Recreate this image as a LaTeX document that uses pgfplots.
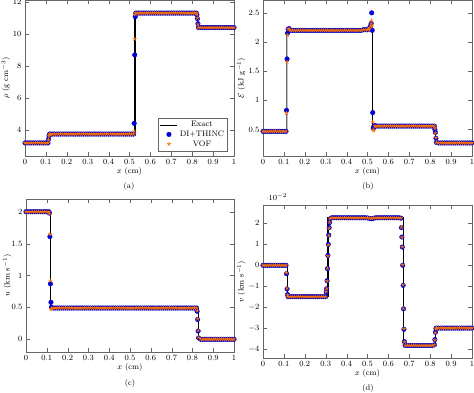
\documentclass[border=0pt]{standalone}
\usepackage{pgfplots}
\usepackage{pgfplotstable}
\pgfplotsset{compat=1.18}
\pgfplotstableset{row sep=\\}

\pgfplotstableread{
x di vof\\
0.00 3.17 3.17\\ 0.01 3.17 3.17\\ 0.02 3.17 3.17\\ 0.03 3.17 3.17\\ 0.04 3.17 3.17\\ 0.05 3.17 3.17\\
0.06 3.17 3.17\\ 0.07 3.17 3.17\\ 0.08 3.17 3.17\\ 0.09 3.17 3.17\\ 0.10 3.17 3.17\\ 0.11 3.17 3.17\\
0.1125 3.40 3.36\\ 0.115 3.62 3.60\\ 0.1175 3.72 3.71\\
0.12 3.73 3.73\\ 0.13 3.73 3.73\\ 0.14 3.73 3.73\\ 0.15 3.73 3.73\\ 0.16 3.73 3.73\\ 0.17 3.73 3.73\\
0.18 3.73 3.73\\ 0.19 3.73 3.73\\ 0.20 3.73 3.73\\ 0.21 3.73 3.73\\ 0.22 3.73 3.73\\ 0.23 3.73 3.73\\
0.24 3.73 3.73\\ 0.25 3.73 3.73\\ 0.26 3.73 3.73\\ 0.27 3.73 3.73\\ 0.28 3.73 3.73\\ 0.29 3.73 3.73\\
0.30 3.73 3.73\\ 0.31 3.73 3.73\\ 0.32 3.73 3.73\\ 0.33 3.73 3.73\\ 0.34 3.73 3.73\\ 0.35 3.73 3.73\\
0.36 3.73 3.73\\ 0.37 3.73 3.73\\ 0.38 3.73 3.73\\ 0.39 3.73 3.73\\ 0.40 3.73 3.73\\ 0.41 3.73 3.73\\
0.42 3.73 3.73\\ 0.43 3.73 3.73\\ 0.44 3.73 3.73\\ 0.45 3.73 3.73\\ 0.46 3.73 3.73\\ 0.47 3.73 3.73\\
0.48 3.73 3.73\\ 0.49 3.73 3.73\\ 0.50 3.73 3.73\\ 0.51 3.73 3.73\\ 0.52 3.73 3.73\\
0.5225 4.40 3.90\\ 0.525 8.70 9.70\\ 0.5275 11.10 11.24\\
0.53 11.33 11.33\\ 0.54 11.33 11.33\\ 0.55 11.33 11.33\\ 0.56 11.33 11.33\\ 0.57 11.33 11.33\\
0.58 11.33 11.33\\ 0.59 11.33 11.33\\ 0.60 11.33 11.33\\ 0.61 11.33 11.33\\ 0.62 11.33 11.33\\
0.63 11.33 11.33\\ 0.64 11.33 11.33\\ 0.65 11.33 11.33\\ 0.66 11.33 11.33\\ 0.67 11.33 11.33\\
0.68 11.33 11.33\\ 0.69 11.33 11.33\\ 0.70 11.33 11.33\\ 0.71 11.33 11.33\\ 0.72 11.33 11.33\\
0.73 11.33 11.33\\ 0.74 11.33 11.33\\ 0.75 11.33 11.33\\ 0.76 11.33 11.33\\ 0.77 11.33 11.33\\
0.78 11.33 11.33\\ 0.79 11.33 11.33\\ 0.80 11.33 11.33\\ 0.81 11.33 11.33\\ 0.82 11.33 11.33\\
0.8225 11.22 11.25\\ 0.825 10.98 11.02\\ 0.8275 10.66 10.62\\
0.83 10.42 10.42\\ 0.84 10.42 10.42\\ 0.85 10.42 10.42\\ 0.86 10.42 10.42\\ 0.87 10.42 10.42\\
0.88 10.42 10.42\\ 0.89 10.42 10.42\\ 0.90 10.42 10.42\\ 0.91 10.42 10.42\\ 0.92 10.42 10.42\\
0.93 10.42 10.42\\ 0.94 10.42 10.42\\ 0.95 10.42 10.42\\ 0.96 10.42 10.42\\ 0.97 10.42 10.42\\
0.98 10.42 10.42\\ 0.99 10.42 10.42\\ 1.00 10.42 10.42\\
}\tabA

\pgfplotstableread{
x di vof\\
0.00 0.47 0.47\\ 0.01 0.47 0.47\\ 0.02 0.47 0.47\\ 0.03 0.47 0.47\\ 0.04 0.47 0.47\\ 0.05 0.47 0.47\\
0.06 0.47 0.47\\ 0.07 0.47 0.47\\ 0.08 0.47 0.47\\ 0.09 0.47 0.47\\ 0.10 0.47 0.47\\ 0.11 0.47 0.47\\
0.1125 0.83 0.78\\ 0.115 1.71 1.66\\ 0.1175 2.15 2.12\\ 0.12 2.22 2.22\\ 0.125 2.23 2.23\\
0.13 2.20 2.20\\ 0.14 2.20 2.20\\ 0.15 2.20 2.20\\ 0.16 2.20 2.20\\ 0.17 2.20 2.20\\ 0.18 2.20 2.20\\
0.19 2.20 2.20\\ 0.20 2.20 2.20\\ 0.21 2.20 2.20\\ 0.22 2.20 2.20\\ 0.23 2.20 2.20\\ 0.24 2.20 2.20\\
0.25 2.20 2.20\\ 0.26 2.20 2.20\\ 0.27 2.20 2.20\\ 0.28 2.20 2.20\\ 0.29 2.20 2.20\\ 0.30 2.20 2.20\\
0.31 2.20 2.20\\ 0.32 2.20 2.20\\ 0.33 2.20 2.20\\ 0.34 2.20 2.20\\ 0.35 2.20 2.20\\ 0.36 2.20 2.20\\
0.37 2.20 2.20\\ 0.38 2.20 2.20\\ 0.39 2.20 2.20\\ 0.40 2.20 2.20\\ 0.41 2.20 2.20\\ 0.42 2.20 2.20\\
0.43 2.20 2.20\\ 0.44 2.20 2.20\\ 0.45 2.20 2.20\\ 0.46 2.20 2.20\\ 0.47 2.20 2.20\\ 0.48 2.21 2.21\\
0.49 2.21 2.21\\ 0.50 2.21 2.21\\
0.505 2.22 2.22\\ 0.51 2.24 2.23\\ 0.515 2.28 2.27\\ 0.5175 2.32 2.32\\ 0.52 2.50 2.37\\
0.5225 2.20 2.28\\ 0.525 0.79 0.63\\ 0.5275 0.52 0.50\\ 0.53 0.55 0.48\\ 0.535 0.57 0.56\\
0.54 0.56 0.56\\ 0.55 0.56 0.56\\ 0.56 0.56 0.56\\ 0.57 0.56 0.56\\ 0.58 0.56 0.56\\ 0.59 0.56 0.56\\
0.60 0.56 0.56\\ 0.61 0.56 0.56\\ 0.62 0.56 0.56\\ 0.63 0.56 0.56\\ 0.64 0.56 0.56\\ 0.65 0.56 0.56\\
0.66 0.56 0.56\\ 0.67 0.56 0.56\\ 0.68 0.56 0.56\\ 0.69 0.56 0.56\\ 0.70 0.56 0.56\\ 0.71 0.56 0.56\\
0.72 0.56 0.56\\ 0.73 0.56 0.56\\ 0.74 0.56 0.56\\ 0.75 0.56 0.56\\ 0.76 0.56 0.56\\ 0.77 0.56 0.56\\
0.78 0.56 0.56\\ 0.79 0.56 0.56\\ 0.80 0.56 0.56\\ 0.81 0.56 0.56\\ 0.82 0.56 0.56\\
0.8225 0.50 0.52\\ 0.825 0.45 0.44\\ 0.8275 0.35 0.36\\ 0.83 0.28 0.28\\
0.84 0.27 0.27\\ 0.85 0.27 0.27\\ 0.86 0.27 0.27\\ 0.87 0.27 0.27\\ 0.88 0.27 0.27\\ 0.89 0.27 0.27\\
0.90 0.27 0.27\\ 0.91 0.27 0.27\\ 0.92 0.27 0.27\\ 0.93 0.27 0.27\\ 0.94 0.27 0.27\\ 0.95 0.27 0.27\\
0.96 0.27 0.27\\ 0.97 0.27 0.27\\ 0.98 0.27 0.27\\ 0.99 0.27 0.27\\ 1.00 0.27 0.27\\
}\tabB

\pgfplotstableread{
x di vof\\
0.00 2.00 2.00\\ 0.01 2.00 2.00\\ 0.02 2.00 2.00\\ 0.03 2.00 2.00\\ 0.04 2.00 2.00\\ 0.05 2.00 2.00\\
0.06 2.00 2.00\\ 0.07 2.00 2.00\\ 0.08 2.00 2.00\\ 0.09 2.00 2.00\\ 0.10 2.00 2.00\\ 0.11 2.00 2.00\\
0.1125 1.98 1.97\\ 0.115 1.61 1.65\\ 0.1175 0.87 0.92\\ 0.12 0.58 0.47\\ 0.1225 0.50 0.48\\
0.13 0.49 0.49\\ 0.14 0.49 0.49\\ 0.15 0.49 0.49\\ 0.16 0.49 0.49\\ 0.17 0.49 0.49\\ 0.18 0.49 0.49\\
0.19 0.49 0.49\\ 0.20 0.49 0.49\\ 0.21 0.49 0.49\\ 0.22 0.49 0.49\\ 0.23 0.49 0.49\\ 0.24 0.49 0.49\\
0.25 0.49 0.49\\ 0.26 0.49 0.49\\ 0.27 0.49 0.49\\ 0.28 0.49 0.49\\ 0.29 0.49 0.49\\ 0.30 0.49 0.49\\
0.31 0.49 0.49\\ 0.32 0.49 0.49\\ 0.33 0.49 0.49\\ 0.34 0.49 0.49\\ 0.35 0.49 0.49\\ 0.36 0.49 0.49\\
0.37 0.49 0.49\\ 0.38 0.49 0.49\\ 0.39 0.49 0.49\\ 0.40 0.49 0.49\\ 0.41 0.49 0.49\\ 0.42 0.49 0.49\\
0.43 0.49 0.49\\ 0.44 0.49 0.49\\ 0.45 0.49 0.49\\ 0.46 0.49 0.49\\ 0.47 0.49 0.49\\ 0.48 0.49 0.49\\
0.49 0.49 0.49\\ 0.50 0.49 0.49\\ 0.51 0.49 0.49\\ 0.52 0.49 0.49\\ 0.53 0.49 0.49\\ 0.54 0.49 0.49\\
0.55 0.49 0.49\\ 0.56 0.49 0.49\\ 0.57 0.49 0.49\\ 0.58 0.49 0.49\\ 0.59 0.49 0.49\\ 0.60 0.49 0.49\\
0.61 0.49 0.49\\ 0.62 0.49 0.49\\ 0.63 0.49 0.49\\ 0.64 0.49 0.49\\ 0.65 0.49 0.49\\ 0.66 0.49 0.49\\
0.67 0.49 0.49\\ 0.68 0.49 0.49\\ 0.69 0.49 0.49\\ 0.70 0.49 0.49\\ 0.71 0.49 0.49\\ 0.72 0.49 0.49\\
0.73 0.49 0.49\\ 0.74 0.49 0.49\\ 0.75 0.49 0.49\\ 0.76 0.49 0.49\\ 0.77 0.49 0.49\\ 0.78 0.49 0.49\\
0.79 0.49 0.49\\ 0.80 0.49 0.49\\ 0.81 0.49 0.49\\ 0.82 0.49 0.49\\
0.8225 0.44 0.45\\ 0.825 0.31 0.32\\ 0.8275 0.13 0.14\\ 0.83 0.02 0.03\\
0.84 0.00 0.00\\ 0.85 0.00 0.00\\ 0.86 0.00 0.00\\ 0.87 0.00 0.00\\ 0.88 0.00 0.00\\ 0.89 0.00 0.00\\
0.90 0.00 0.00\\ 0.91 0.00 0.00\\ 0.92 0.00 0.00\\ 0.93 0.00 0.00\\ 0.94 0.00 0.00\\ 0.95 0.00 0.00\\
0.96 0.00 0.00\\ 0.97 0.00 0.00\\ 0.98 0.00 0.00\\ 0.99 0.00 0.00\\ 1.00 0.00 0.00\\
}\tabC

\pgfplotstableread{
x di vof\\
0.00 0.0000 0.0000\\ 0.01 0.0000 0.0000\\ 0.02 0.0000 0.0000\\ 0.03 0.0000 0.0000\\
0.04 0.0000 0.0000\\ 0.05 0.0000 0.0000\\ 0.06 0.0000 0.0000\\ 0.07 0.0000 0.0000\\
0.08 0.0000 0.0000\\ 0.09 0.0000 0.0000\\ 0.10 0.0000 0.0000\\ 0.11 0.0000 0.0000\\
0.1125 -0.0040 -0.0036\\ 0.115 -0.0113 -0.0110\\ 0.1175 -0.0140 -0.0142\\
0.12 -0.0150 -0.0150\\ 0.13 -0.0150 -0.0150\\ 0.14 -0.0150 -0.0150\\ 0.15 -0.0150 -0.0150\\
0.16 -0.0150 -0.0150\\ 0.17 -0.0150 -0.0150\\ 0.18 -0.0150 -0.0150\\ 0.19 -0.0150 -0.0150\\
0.20 -0.0150 -0.0150\\ 0.21 -0.0150 -0.0150\\ 0.22 -0.0150 -0.0150\\ 0.23 -0.0150 -0.0150\\
0.24 -0.0150 -0.0150\\ 0.25 -0.0150 -0.0150\\ 0.26 -0.0150 -0.0150\\ 0.27 -0.0150 -0.0150\\
0.28 -0.0150 -0.0150\\ 0.29 -0.0150 -0.0150\\ 0.30 -0.0150 -0.0150\\
0.3025 -0.0128 -0.0126\\ 0.3045 -0.0112 -0.0110\\ 0.3065 -0.0074 -0.0075\\ 0.3085 -0.0016 -0.0015\\
0.3105 0.0047 0.0045\\ 0.3125 0.0100 0.0098\\ 0.3145 0.0144 0.0142\\ 0.3165 0.0180 0.0178\\
0.3185 0.0204 0.0206\\ 0.3205 0.0222 0.0224\\
0.33 0.0227 0.0227\\ 0.34 0.0227 0.0227\\ 0.35 0.0227 0.0227\\ 0.36 0.0227 0.0227\\
0.37 0.0227 0.0227\\ 0.38 0.0227 0.0227\\ 0.39 0.0227 0.0227\\ 0.40 0.0227 0.0227\\
0.41 0.0227 0.0227\\ 0.42 0.0227 0.0227\\ 0.43 0.0227 0.0227\\ 0.44 0.0227 0.0227\\
0.45 0.0227 0.0227\\ 0.46 0.0227 0.0227\\ 0.47 0.0227 0.0227\\ 0.48 0.0227 0.0227\\
0.49 0.0227 0.0227\\ 0.50 0.0226 0.0226\\ 0.51 0.0224 0.0225\\ 0.52 0.0222 0.0224\\
0.53 0.0225 0.0226\\ 0.54 0.0227 0.0227\\ 0.55 0.0227 0.0227\\ 0.56 0.0227 0.0227\\
0.57 0.0227 0.0227\\ 0.58 0.0227 0.0227\\ 0.59 0.0227 0.0227\\ 0.60 0.0227 0.0227\\
0.61 0.0227 0.0227\\ 0.62 0.0227 0.0227\\ 0.63 0.0227 0.0227\\ 0.64 0.0227 0.0227\\
0.65 0.0227 0.0227\\ 0.66 0.0225 0.0226\\
0.6625 0.0180 0.0182\\ 0.6645 0.0135 0.0134\\ 0.6665 0.0087 0.0088\\ 0.6685 0.0000 0.0002\\
0.6705 -0.0096 -0.0094\\ 0.6725 -0.0208 -0.0206\\ 0.6745 -0.0306 -0.0304\\ 0.6765 -0.0365 -0.0366\\
0.68 -0.0383 -0.0383\\ 0.69 -0.0383 -0.0383\\ 0.70 -0.0383 -0.0383\\ 0.71 -0.0383 -0.0383\\
0.72 -0.0383 -0.0383\\ 0.73 -0.0383 -0.0383\\ 0.74 -0.0383 -0.0383\\ 0.75 -0.0383 -0.0383\\
0.76 -0.0383 -0.0383\\ 0.77 -0.0383 -0.0383\\ 0.78 -0.0383 -0.0383\\ 0.79 -0.0383 -0.0383\\
0.80 -0.0383 -0.0383\\ 0.81 -0.0383 -0.0383\\ 0.82 -0.0380 -0.0381\\
0.8225 -0.0355 -0.0357\\ 0.825 -0.0320 -0.0322\\ 0.8275 -0.0302 -0.0303\\
0.83 -0.0300 -0.0300\\ 0.84 -0.0300 -0.0300\\ 0.85 -0.0300 -0.0300\\ 0.86 -0.0300 -0.0300\\
0.87 -0.0300 -0.0300\\ 0.88 -0.0300 -0.0300\\ 0.89 -0.0300 -0.0300\\ 0.90 -0.0300 -0.0300\\
0.91 -0.0300 -0.0300\\ 0.92 -0.0300 -0.0300\\ 0.93 -0.0300 -0.0300\\ 0.94 -0.0300 -0.0300\\
0.95 -0.0300 -0.0300\\ 0.96 -0.0300 -0.0300\\ 0.97 -0.0300 -0.0300\\ 0.98 -0.0300 -0.0300\\
0.99 -0.0300 -0.0300\\ 1.00 -0.0300 -0.0300\\
}\tabD

\pgfplotsset{
  every axis/.append style={
    scale only axis,
    font=\footnotesize,
    xmin=0, xmax=1,
    xtick={0,0.1,0.2,0.3,0.4,0.5,0.6,0.7,0.8,0.9,1},
    xticklabels={0,0.1,0.2,0.3,0.4,0.5,0.6,0.7,0.8,0.9,1},
    xlabel={$x$ (cm)},
    xlabel shift=-4pt,
    ylabel shift=-4pt,
    tick style={black!60},
    axis line style={black!60},
    anchor=south west,
  },
  exact/.style={black, line width=0.6pt, no marks},
  di/.style={only marks, mark=*, mark size=2.3pt, draw=blue!75!black, fill=blue!85!black},
  vof/.style={only marks, mark=star, mark size=2pt, draw=orange!90!red, line width=0.6pt},
}

\begin{document}
\begin{tikzpicture}[x=1pt,y=1pt]
\useasboundingbox (0,0) rectangle (474,393);

% (a)
\begin{axis}[at={(25pt,237pt)}, width=209pt, height=156pt,
  ymin=2.35, ymax=12.15, ytick={4,6,8,10,12},
  ylabel={$\rho$ (g cm$^{-3}$)},
  legend style={at={(0.97,0.03)}, anchor=south east, font=\footnotesize, draw=black!60, row sep=-1.5pt, inner sep=1.5pt},
  legend cell align=center]
\addplot[exact] coordinates {(0,3.17) (0.114,3.17) (0.114,3.73) (0.525,3.73) (0.525,11.33) (0.826,11.33) (0.826,10.42) (1,10.42)};
\addlegendentry{Exact}
\addplot[di] table[x=x,y=di] {\tabA};
\addlegendentry{DI+THINC}
\addplot[vof] table[x=x,y=vof] {\tabA};
\addlegendentry{VOF}
\addplot[exact, line width=0.4pt, forget plot] coordinates {(0,3.17) (0.114,3.17) (0.114,3.73) (0.525,3.73) (0.525,11.33) (0.826,11.33) (0.826,10.42) (1,10.42)};
\end{axis}

% (b)
\begin{axis}[at={(263pt,237pt)}, width=209pt, height=156pt,
  ymin=0.047, ymax=2.72, ytick={0.5,1,1.5,2,2.5},
  ylabel={$\mathcal{E}$ (kJ g$^{-1}$)}]
\addplot[exact] coordinates {(0,0.47) (0.114,0.47) (0.114,2.20) (0.524,2.21) (0.524,0.56) (0.826,0.56) (0.826,0.27) (1,0.27)};
\addplot[di] table[x=x,y=di] {\tabB};
\addplot[vof] table[x=x,y=vof] {\tabB};
\addplot[exact, line width=0.4pt] coordinates {(0,0.47) (0.114,0.47) (0.114,2.20) (0.524,2.21) (0.524,0.56) (0.826,0.56) (0.826,0.27) (1,0.27)};
\end{axis}

% (c)
\begin{axis}[at={(26pt,41pt)}, width=208pt, height=153pt,
  ymin=-0.2, ymax=2.2, ytick={0,0.5,1,1.5,2},
  ylabel shift=-7pt,
  ylabel={$u$ (km s$^{-1}$)}]
\addplot[exact] coordinates {(0,2) (0.116,2) (0.116,0.49) (0.826,0.49) (0.826,0) (1,0)};
\addplot[di] table[x=x,y=di] {\tabC};
\addplot[vof] table[x=x,y=vof] {\tabC};
\addplot[exact, line width=0.4pt] coordinates {(0,2) (0.116,2) (0.116,0.49) (0.826,0.49) (0.826,0) (1,0)};
\end{axis}

% (d)
\begin{axis}[at={(263pt,35pt)}, width=209pt, height=153pt,
  ymin=-0.0443, ymax=0.0288,
  ytick={-0.04,-0.03,-0.02,-0.01,0,0.01,0.02},
  ylabel={$v$ (km s$^{-1}$)}]
\addplot[exact] coordinates {(0,0) (0.114,0) (0.114,-0.015) (0.31,-0.015) (0.31,0.0227) (0.669,0.0227) (0.669,-0.0383) (0.825,-0.0383) (0.825,-0.03) (1,-0.03)};
\addplot[di] table[x=x,y=di] {\tabD};
\addplot[vof] table[x=x,y=vof] {\tabD};
\addplot[exact, line width=0.4pt] coordinates {(0,0) (0.114,0) (0.114,-0.015) (0.31,-0.015) (0.31,0.0227) (0.669,0.0227) (0.669,-0.0383) (0.825,-0.0383) (0.825,-0.03) (1,-0.03)};
\end{axis}

\node[font=\footnotesize] at (129,206) {(a)};
\node[font=\footnotesize] at (368,206) {(b)};
\node[font=\footnotesize] at (130,9) {(c)};
\node[font=\footnotesize] at (368,4) {(d)};
\end{tikzpicture}
\end{document}
